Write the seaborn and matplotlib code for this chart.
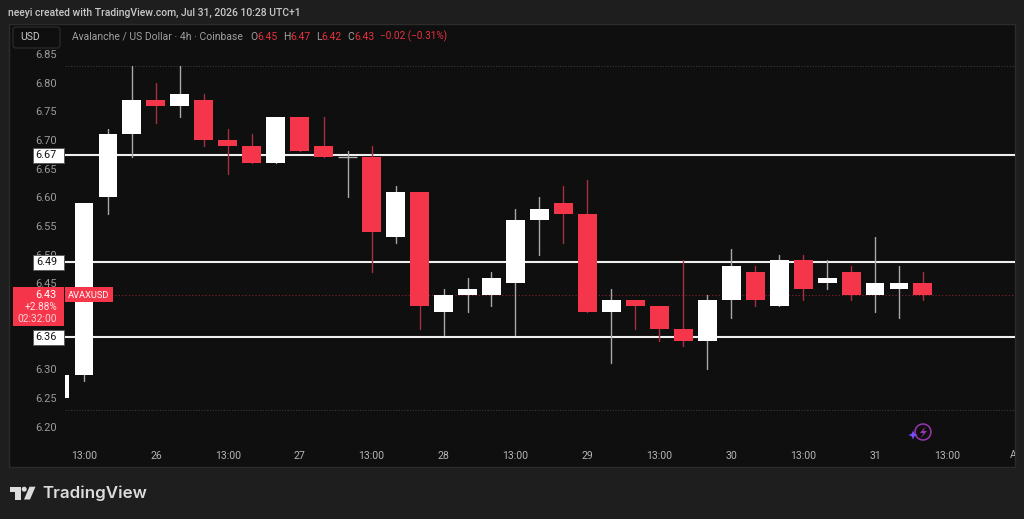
import pandas as pd
import seaborn as sns
import matplotlib
matplotlib.use("Agg")
import matplotlib.pyplot as plt
from matplotlib.patches import Rectangle, FancyBboxPatch, Circle, Polygon
from matplotlib.transforms import Bbox

# -------------------------
# DATA
# -------------------------

idx = list(range(-1, 36))
opens = [6.25, 6.29, 6.60, 6.71, 6.77, 6.76, 6.77, 6.70, 6.69, 6.66, 6.74, 6.69, 6.67,
         6.67, 6.53, 6.61, 6.40, 6.43, 6.43, 6.45, 6.56, 6.59, 6.57, 6.40, 6.42, 6.41,
         6.37, 6.35, 6.42, 6.47, 6.41, 6.49, 6.45, 6.47, 6.43, 6.44, 6.45]
closes = [6.29, 6.59, 6.71, 6.77, 6.76, 6.78, 6.70, 6.69, 6.66, 6.74, 6.68, 6.67, 6.67,
          6.54, 6.61, 6.41, 6.43, 6.44, 6.46, 6.56, 6.58, 6.57, 6.40, 6.42, 6.41, 6.37,
          6.35, 6.42, 6.48, 6.42, 6.49, 6.44, 6.46, 6.43, 6.45, 6.45, 6.43]
highs = [6.29, 6.59, 6.72, 6.83, 6.80, 6.83, 6.78, 6.72, 6.71, 6.74, 6.74, 6.74, 6.68,
         6.69, 6.62, 6.61, 6.44, 6.46, 6.47, 6.58, 6.60, 6.62, 6.63, 6.44, 6.42, 6.41,
         6.49, 6.43, 6.51, 6.48, 6.50, 6.50, 6.49, 6.48, 6.53, 6.48, 6.47]
lows = [6.25, 6.28, 6.57, 6.67, 6.73, 6.74, 6.69, 6.64, 6.66, 6.66, 6.68, 6.67, 6.60,
        6.47, 6.52, 6.37, 6.36, 6.40, 6.41, 6.36, 6.50, 6.52, 6.40, 6.31, 6.37, 6.35,
        6.34, 6.30, 6.39, 6.41, 6.41, 6.42, 6.44, 6.42, 6.40, 6.39, 6.42]

levels = [6.673, 6.487, 6.356]
level_labels = ["6.67", "6.49", "6.36"]
last_price = 6.43
range_high = 6.829
range_low = 6.229

price_ticks = [6.85, 6.80, 6.75, 6.70, 6.65, 6.60, 6.55, 6.50, 6.45, 6.30, 6.25, 6.20]
time_ticks = [0, 3, 6, 9, 12, 15, 18, 21, 24, 27, 30, 33, 36]
time_labels = ["13:00", "26", "13:00", "27", "13:00", "28", "13:00", "29", "13:00",
               "30", "13:00", "31", "13:00"]

UP = "#ffffff"
DOWN = "#f5364a"
PANEL = "#0f0f0f"
OUTER = "#1e1e1e"

df = pd.DataFrame({"pos": idx, "open": opens, "close": closes, "high": highs, "low": lows})
df["up"] = df["close"] >= df["open"]
df["bottom"] = df[["open", "close"]].min(axis=1)
df["height"] = (df["close"] - df["open"]).abs()

wicks = df.melt(id_vars=["pos", "up"], value_vars=["high", "low"], value_name="price")
wicks = wicks.sort_values(["pos", "price"])

# -------------------------
# FIGURE
# -------------------------

sns.set_theme(style="dark")
plt.rcParams["font.family"] = ["Roboto", "DejaVu Sans"]

W, H = 1024, 519
fig = plt.figure(figsize=(W / 100, H / 100), dpi=100, facecolor=OUTER)

# overlay in pixels for the window chrome
bg = fig.add_axes([0, 0, 1, 1], zorder=0)
bg.set_xlim(0, W)
bg.set_ylim(H, 0)
bg.axis("off")
bg.add_patch(Rectangle((9, 24), 1006, 443, fc=PANEL, ec="#2c2c2c", lw=1))

# price pane
L, R, T, B = 65, 1015, 25, 443
ax = fig.add_axes([L / W, 1 - B / H, (R - L) / W, (B - T) / H], zorder=1)
ax.patch.set_alpha(0)
ax.set_xlim((L - 84) / 23.97, (R - 84) / 23.97)
ax.set_ylim(6.20 + (426.5 - B) / 573, 6.20 + (426.5 - T) / 573)
for s in ax.spines.values():
    s.set_visible(False)

for lv in levels:
    ax.axhline(lv, color="#f0f0f0", lw=1.5, zorder=1)
ax.axhline(range_high, color="#3a3a3a", lw=0.8, ls=(0, (1, 1.5)), zorder=1)
ax.axhline(range_low, color="#3a3a3a", lw=0.8, ls=(0, (1, 1.5)), zorder=1)
ax.axhline(last_price, color="#8a2430", lw=0.8, ls=(0, (1, 2)), zorder=1)

sns.lineplot(data=wicks, x="pos", y="price", hue="up", units="pos", estimator=None,
             palette={True: "#a8a8a8", False: "#a8303e"}, lw=1, legend=False, ax=ax, zorder=2)

ax.bar(df["pos"], df["height"], bottom=df["bottom"], width=0.79, lw=0,
       color=[UP if u else DOWN for u in df["up"]], zorder=3)
doji = df[df["height"] == 0]
ax.hlines(doji["open"], doji["pos"] - 0.4, doji["pos"] + 0.4, color="#b0b0b0", lw=1, zorder=3)

ax.set_xlabel("")
ax.set_ylabel("")
ax.set_xticks(time_ticks, time_labels)
ax.set_yticks(price_ticks, [f"{p:.2f}" for p in price_ticks])
ax.tick_params(axis="x", length=0, pad=6, labelsize=7.6, labelcolor="#b4b4b4")
ax.tick_params(axis="y", length=0, pad=5.5, labelsize=8, labelcolor="#9a9a9a")


def py(price):
    return H - ax.transData.transform((0, price))[1]


# labels on top of everything
top = fig.add_axes([0, 0, 1, 1], zorder=2)
top.set_xlim(0, W)
top.set_ylim(H, 0)
top.axis("off")

for lv, lab in zip(levels, level_labels):
    y = py(lv)
    top.add_patch(Rectangle((33, y - 7.5), 31, 15, fc="#ffffff", ec="#555555", lw=0.6))
    top.text(57, y, lab, color="#111111", fontsize=7.8, ha="right", va="center")

top.add_patch(Rectangle((13.3, 287), 50.7, 39, fc=DOWN, lw=0))
top.add_patch(Rectangle((65, 287), 47.5, 15, fc=DOWN, lw=0))
top.text(57, 295, "6.43", color="#ffffff", fontsize=7.8, ha="right", va="center")
top.text(57, 307, "+2.88%", color="#ffe0e3", fontsize=7.3, ha="right", va="center")
top.text(57, 319, "02:32:00", color="#ffd0d5", fontsize=7.3, ha="right", va="center")
top.text(88.8, 295, "AVAXUSD", color="#ffffff", fontsize=6.7, ha="center", va="center")

# axis label running out of the pane
aug = top.text(1019, 455, "Aug", color="#b4b4b4", fontsize=7.6, ha="center", va="center")
aug.set_clip_box(Bbox([[0, 0], [R, H]]))
aug.set_clip_on(True)

# header
top.text(8, 13, "neeyi created with TradingView.com, Jul 31, 2026 10:28 UTC+1",
         color="#c9c9c9", fontsize=7.5, fontweight="medium", va="center")
top.add_patch(FancyBboxPatch((13, 27), 47, 21, boxstyle="round,pad=0,rounding_size=3",
                             fc=PANEL, ec="#2e2e2e", lw=0.8))
top.text(20, 37.5, "USD", color="#c9c9c9", fontsize=7.5, va="center")
top.text(72, 36.5, "Avalanche / US Dollar · 4h · Coinbase", color="#a0a0a0", fontsize=7.5, va="center")
header_parts = [(250, "O", "#a0a0a0"), (257, "6.45", "#e8303f"), (283, "H", "#a0a0a0"),
                (290, "6.47", "#e8303f"), (316, "L", "#a0a0a0"), (321, "6.42", "#e8303f"),
                (347, "C", "#a0a0a0"), (354, "6.43", "#e8303f")]
for x, s, c in header_parts:
    top.text(x, 36.5, s, color=c, fontsize=7.5, va="center")
top.text(380, 36.5, "−0.02 (−0.31%)", color="#e8303f", fontsize=7.2, va="center")

# purple badge
top.add_patch(Circle((923, 432), 8, fc="none", ec="#9c34b0", lw=1.1))
top.add_patch(Polygon([(925, 427), (920, 433), (923.5, 433), (921, 438), (927, 431), (923.5, 431)],
                      fc="#9c34b0", lw=0))
top.add_patch(Polygon([(913, 430.5), (914.3, 433.7), (917.5, 435), (914.3, 436.3), (913, 439.5),
                       (911.7, 436.3), (908.5, 435), (911.7, 433.7)], fc="#7a4cff", lw=0))

# TradingView logo
logo = "#dcdcdc"
top.add_patch(Polygon([(10, 486.7), (20.7, 486.7), (20.7, 499.5), (15.3, 499.5), (15.3, 491.7), (10, 491.7)],
                      fc=logo, lw=0))
top.add_patch(Circle((24.2, 489.2), 2.5, fc=logo, lw=0))
top.add_patch(Polygon([(29.5, 486.7), (35.5, 486.7), (30, 499.5), (24, 499.5)], fc=logo, lw=0))
top.text(42.5, 493.5, "TradingView", color=logo, fontsize=12.2, fontweight="semibold", va="center",
         family="Inter")

fig.savefig("out.png", dpi=100, facecolor=OUTER)
